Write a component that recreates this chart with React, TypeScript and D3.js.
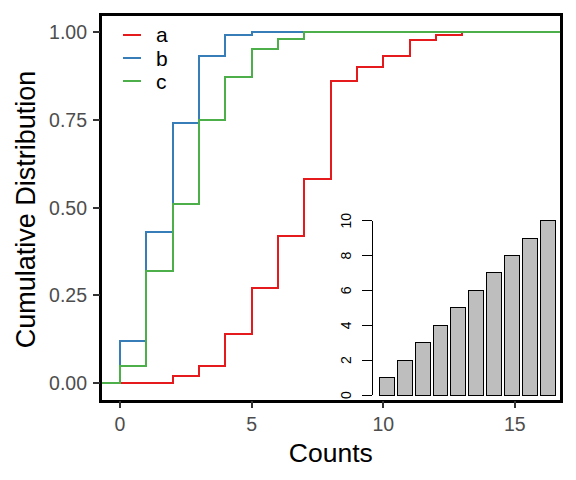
import React from 'react';
import * as d3 from 'd3';

// cumulative share at counts 0, 1, 2, ...
const ecdfA = [0, 0, 0.02, 0.05, 0.14, 0.27, 0.42, 0.58, 0.86, 0.9, 0.93, 0.975, 0.99, 1.0];
const ecdfB = [0.12, 0.43, 0.74, 0.93, 0.99, 1.0];
const ecdfC = [0.05, 0.32, 0.51, 0.75, 0.87, 0.95, 0.98, 1.0];
const seriesNames = ['a', 'b', 'c'];
const seriesColors = ['#E41A1C', '#377EB8', '#4DAF4A'];

const xTicks = [0, 5, 10, 15];
const yTicks = [0, 0.25, 0.5, 0.75, 1];

const insetValues = [1, 2, 3, 4, 5, 6, 7, 8, 9, 10];
const insetTicks = [0, 2, 4, 6, 8, 10];

const W = 576;
const H = 480;
const panel = { left: 100, right: 561.7, top: 14, bottom: 401 };

const App: React.FC = () => {
    const x = d3.scaleLinear().domain([-0.76, 16.78]).range([panel.left, panel.right]);
    const y = d3.scaleLinear().domain([-0.05, 1.05]).range([panel.bottom, panel.top]);

    const [xMin, xMax] = x.domain();
    const line = d3.line<[number, number]>()
        .x(d => x(d[0]))
        .y(d => y(d[1]))
        .curve(d3.curveStepAfter);

    const stepPoints = (vals: number[]): [number, number][] => [
        [xMin, 0],
        ...vals.map((v, i) => [i, v] as [number, number]),
        [xMax, 1],
    ];
    const allSeries = [ecdfA, ecdfB, ecdfC];

    // inset barplot (base R style: bar width 1, space 0.2)
    const ix = d3.scaleLinear().domain([-0.272, 12.472]).range([372.3, 562.4]);
    const iy = d3.scaleLinear().domain([0, 10]).range([395, 220.7]);

    const font = 'Liberation Sans, Arial, sans-serif';

    return (
        <svg width={W} height={H} style={{ position: 'absolute', left: 0, top: 0 }} fontFamily={font}>
            <rect width={W} height={H} fill="#fff" />
            <defs>
                <clipPath id="panel-clip">
                    <rect x={panel.left} y={panel.top} width={panel.right - panel.left} height={panel.bottom - panel.top} />
                </clipPath>
            </defs>

            {/* step lines */}
            <g clipPath="url(#panel-clip)">
                {allSeries.map((vals, i) => (
                    <path key={seriesNames[i]} d={line(stepPoints(vals)) ?? ''} fill="none"
                        stroke={seriesColors[i]} strokeWidth={2} shapeRendering="crispEdges" />
                ))}
            </g>

            {/* inset */}
            <g shapeRendering="crispEdges">
                {insetValues.map((v, i) => (
                    <rect key={i} x={ix(0.2 + i * 1.2)} y={iy(v)} width={ix(1) - ix(0)} height={iy(0) - iy(v)}
                        fill="#BEBEBE" stroke="#000" strokeWidth={1} />
                ))}
                <line x1={372.3} x2={372.3} y1={iy(0)} y2={iy(10)} stroke="#000" strokeWidth={1} />
                {insetTicks.map(t => (
                    <g key={t}>
                        <line x1={362.3} x2={372.3} y1={iy(t)} y2={iy(t)} stroke="#000" strokeWidth={1} />
                        <text transform={`translate(350.5,${iy(t)}) rotate(-90)`} textAnchor="middle"
                            fontSize={14} fill="#000" shapeRendering="auto">{t}</text>
                    </g>
                ))}
            </g>

            {/* legend */}
            {seriesNames.map((s, i) => (
                <g key={s} transform={`translate(0,${34.7 + i * 23.3})`}>
                    <line x1={122.7} x2={140.7} y1={0} y2={0} stroke={seriesColors[i]} strokeWidth={2}
                        shapeRendering="crispEdges" />
                    <text x={156} y={7.5} fontSize={21} fill="#000">{s}</text>
                </g>
            ))}

            {/* panel border */}
            <rect x={panel.left} y={panel.top} width={panel.right - panel.left} height={panel.bottom - panel.top}
                fill="none" stroke="#000" strokeWidth={3} shapeRendering="crispEdges" />

            {/* axes ticks */}
            {xTicks.map(t => (
                <g key={t}>
                    <line x1={x(t)} x2={x(t)} y1={panel.bottom} y2={panel.bottom + 7} stroke="#333" strokeWidth={2}
                        shapeRendering="crispEdges" />
                    <text x={x(t)} y={431} textAnchor="middle" fontSize={19.5} fill="#4D4D4D">{t}</text>
                </g>
            ))}
            {yTicks.map(t => (
                <g key={t}>
                    <line x1={panel.left - 7} x2={panel.left} y1={y(t)} y2={y(t)} stroke="#333" strokeWidth={2}
                        shapeRendering="crispEdges" />
                    <text x={87} y={y(t)} dy="0.36em" textAnchor="end" fontSize={19.5} fill="#4D4D4D">{d3.format('.2f')(t)}</text>
                </g>
            ))}

            {/* axis titles */}
            <text x={(panel.left + panel.right) / 2} y={461.5} textAnchor="middle" fontSize={26.5} fill="#000">Counts</text>
            <text transform={`translate(35,${(panel.top + panel.bottom) / 2 + 2}) rotate(-90)`} textAnchor="middle"
                fontSize={27} fill="#000">Cumulative Distribution</text>
        </svg>
    );
};

export default App;
